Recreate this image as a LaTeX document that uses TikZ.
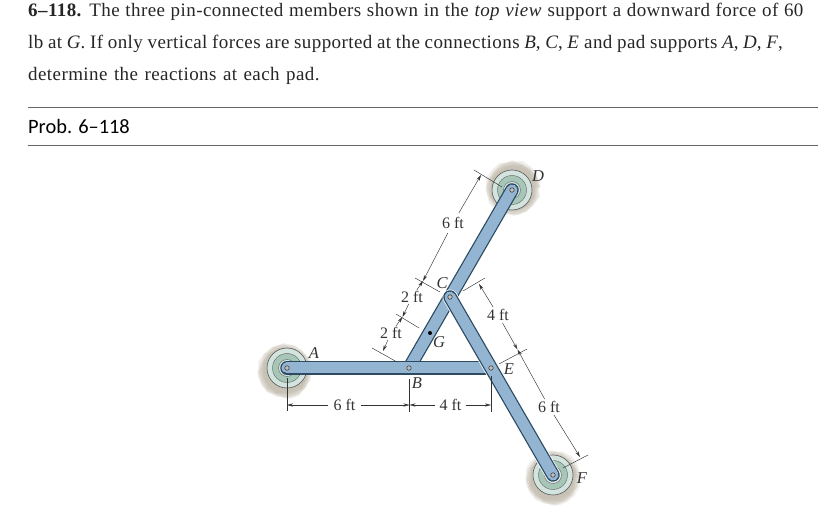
\documentclass[tikz,border=0pt]{standalone}
\usepackage{fontspec}
\setmainfont{Liberation Serif}
\newfontfamily\bodyfont[LetterSpace=2.2]{Liberation Serif}
\newfontfamily\probfont{Carlito}
\usetikzlibrary{calc}
\usetikzlibrary{arrows.meta}
\usetikzlibrary{decorations.pathmorphing}
\definecolor{barblue}{HTML}{93B5D1}
\definecolor{bardark}{HTML}{2C4A62}
\definecolor{padring}{HTML}{D3E3DE}
\definecolor{padgreen}{HTML}{A6C7B7}
\definecolor{padsand}{HTML}{B5AD9C}
\definecolor{inkgray}{HTML}{333333}
\tikzset{
  textline/.style={anchor=base west,inner sep=0pt,font=\bodyfont\fontsize{19}{21}\selectfont,text=black!85},
  rulegray/.style={draw=black!60,line width=0.9pt},
  dimtext/.style={inner sep=1pt,font=\fontsize{16}{18}\selectfont,text=inkgray},
  padlabel/.style={inner sep=0pt,font=\fontsize{16.5}{18}\selectfont\itshape,text=inkgray},
  witness/.style={draw=inkgray,line width=0.45pt},
  dimline/.style={draw=inkgray,line width=0.45pt,-{Stealth[length=6pt,width=3.2pt]}},
  barout/.style={draw=bardark,line width=13.5pt,line cap=round},
  barin/.style={draw=barblue,line width=11pt,line cap=round},
  pinhole/.style={circle,draw=black!75,fill=black!25,line width=0.6pt,minimum size=4.5pt,inner sep=0pt},
}
\begin{document}
\begin{tikzpicture}[x=1pt,y=-1pt]
\useasboundingbox (0,0) rectangle (820,518);

% text at the top
\node[textline] (lineone) at (28,17) {\spaceskip=5.7pt \textbf{6–118.} The three pin-connected members shown in the \textit{top view} support a downward force of 60};
\node[textline] (linetwo) at (28,49) {\spaceskip=4.7pt lb at \textit{G}. If only vertical forces are supported at the connections \textit{B}, \textit{C}, \textit{E} and pad supports \textit{A}, \textit{D}, \textit{F},};
\node[textline] (linethree) at (28,81) {\spaceskip=6.5pt determine the reactions at each pad.};
\node[anchor=base west,inner sep=0pt,font=\probfont\fontsize{20.4}{22}\selectfont] (probname) at (28,134) {Prob. 6–118};
\coordinate (ruleoneL) at (28,107);
\coordinate (ruleoneR) at (818,107);
\coordinate (ruletwoL) at (28,145);
\coordinate (ruletwoR) at (818,145);
\draw[rulegray] (ruleoneL) -- (ruleoneR);
\draw[rulegray] (ruletwoL) -- (ruletwoR);

\coordinate (ptA) at (287,368);
\coordinate (ptB) at (409,368);
\coordinate (ptE) at (491,368);
\coordinate (ptC) at (450,297);
\coordinate (ptD) at (512,190);
\coordinate (ptF) at (553,475);

% pads
\foreach \padname/\dx/\dy in {ptA/-2/3,ptD/1/-2,ptF/0/3}{
  \begin{scope}[shift={(\padname)}]
    \foreach \r in {26,25,24,23,22,21}
      \fill[padsand,opacity=0.2,decorate,decoration={random steps,segment length=9pt,amplitude=1pt}] (\dx,\dy) circle (\r);
    \fill[padring,draw=black!65,line width=0.6pt] (0,0) circle (20);
    \fill[padgreen,draw=black!55,line width=0.5pt] (0,0) circle (14.5);
    \fill[padring,draw=black!55,line width=0.5pt] (0,0) circle (8.5);
  \end{scope}
}

% the members
\draw[barout] (ptB) -- (ptD);
\draw[barin] (ptB) -- (ptD);
\draw[barout] (ptA) -- (ptE);
\draw[barin] (ptA) -- (ptE);
\draw[white,line width=15pt,line cap=round] (ptC) -- (ptF);
\draw[barout] (ptC) -- (ptF);
\draw[barin] (ptC) -- (ptF);

\foreach \pt/\pinname in {ptA/pinA,ptB/pinB,ptC/pinC,ptD/pinD,ptE/pinE,ptF/pinF}
  \node[pinhole] (\pinname) at (\pt) {};
\node[circle,fill=black,minimum size=4pt,inner sep=0pt] (dotG) at (430,333) {};

\node[padlabel] (labA) at (314,353) {A};
\node[padlabel] (labB) at (417,383) {B};
\node[padlabel] (labC) at (442,283) {C};
\node[padlabel] (labD) at (538,176) {D};
\node[padlabel] (labE) at (509,369) {E};
\node[padlabel] (labF) at (582,478) {F};
\node[padlabel] (labG) at (439,342) {G};

% dimensions along the bottom
\coordinate (wAtop) at (287,378);
\coordinate (wAend) at (287,411);
\coordinate (wBtop) at (409.5,379);
\coordinate (wBend) at (409.5,412);
\coordinate (wEtop) at (491,376);
\coordinate (wEend) at (491,412);
\coordinate (dimA) at (287,405);
\coordinate (dimB) at (409.5,405);
\coordinate (dimE) at (491,405);
\draw[witness] (wAtop) -- (wAend);
\draw[witness] (wBtop) -- (wBend);
\draw[witness] (wEtop) -- (wEend);
\node[dimtext,inner sep=5pt] (sixAB) at (344.5,405) {6 ft};
\node[dimtext,inner sep=4pt] (fourBE) at (450.5,405) {4 ft};
\draw[dimline] (sixAB) -- (dimA);
\draw[dimline] (sixAB) -- (dimB);
\draw[dimline] (fourBE) -- (dimB);
\draw[dimline] (fourBE) -- (dimE);

% dimensions on the left of BD
\coordinate (wBa) at (372,348);
\coordinate (wBb) at (397,362);
\coordinate (wGa) at (396,314);
\coordinate (wGb) at (419,328);
\coordinate (wCa) at (415,278);
\coordinate (wCb) at (440,292);
\coordinate (wDa) at (474,170);
\coordinate (wDb) at (502,187);
\coordinate (dimlow) at (383,351);
\coordinate (dimmid) at (402.5,317);
\coordinate (dimup) at (423,281);
\coordinate (dimtop) at (481,175);
\draw[witness] (wBa) -- (wBb);
\draw[witness] (wGa) -- (wGb);
\draw[witness] (wCa) -- (wCb);
\draw[witness] (wDa) -- (wDb);
\node[dimtext] (twolow) at (391,333) {2 ft};
\node[dimtext] (twoup) at (412,297) {2 ft};
\node[dimtext,inner sep=4pt] (sixCD) at (453,223) {6 ft};
\draw[dimline] (twolow) -- (dimlow);
\draw[dimline] (twolow) -- (dimmid);
\draw[dimline] (twoup) -- (dimmid);
\draw[dimline] (twoup) -- (dimup);
\draw[dimline] (sixCD) -- (dimup);
\draw[dimline] (sixCD) -- (dimtop);

% dimensions on the right of CF
\coordinate (wCc) at (463,291);
\coordinate (wCd) at (485,278);
\coordinate (wEc) at (499,364);
\coordinate (wEd) at (527,349);
\coordinate (wFc) at (563,468);
\coordinate (wFd) at (588,455);
\coordinate (dimr) at (479,284);
\coordinate (dimrmid) at (517.5,349.5);
\coordinate (dimrlow) at (580,457);
\draw[witness] (wCc) -- (wCd);
\draw[witness] (wEc) -- (wEd);
\draw[witness] (wFc) -- (wFd);
\node[dimtext,inner sep=2pt] (fourCE) at (498,315) {4 ft};
\node[dimtext,inner sep=2pt] (sixEF) at (549,407) {6 ft};
\draw[dimline] (fourCE) -- (dimr);
\draw[dimline] (fourCE) -- (dimrmid);
\draw[dimline] (sixEF) -- (dimrmid);
\draw[dimline] (sixEF) -- (dimrlow);
\end{tikzpicture}
\end{document}
